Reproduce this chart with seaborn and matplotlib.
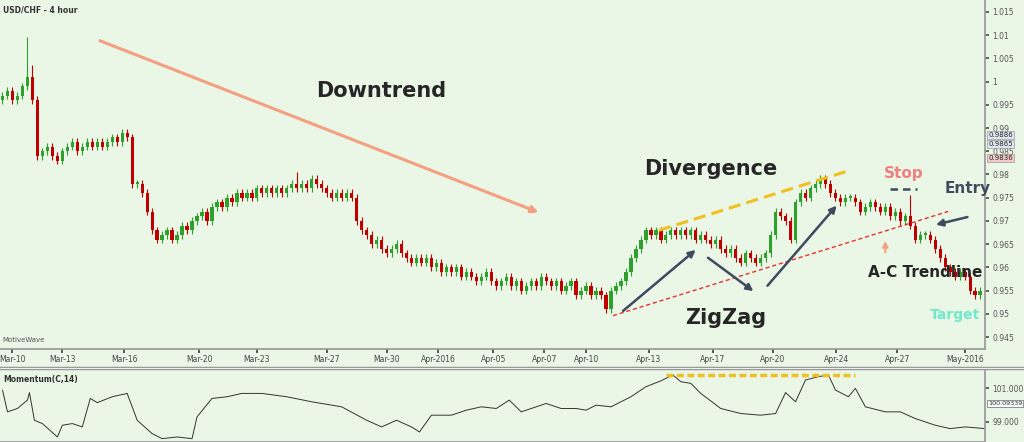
import numpy as np
import pandas as pd
import matplotlib
matplotlib.use("Agg")
import matplotlib.pyplot as plt
import seaborn as sns

# closes, one 4-hour bar each (open = previous close)
closes = [
    0.997, 0.998, 0.996, 0.997, 0.999, 1.001, 0.996, 0.984, 0.985, 0.986,
    0.984, 0.983, 0.985, 0.986, 0.987, 0.985, 0.986, 0.987, 0.986, 0.987,
    0.986, 0.987, 0.988, 0.987, 0.989, 0.988, 0.978, 0.978, 0.976, 0.972,
    0.968, 0.966, 0.967, 0.968, 0.966, 0.967, 0.969, 0.968, 0.970, 0.971,
    0.972, 0.970, 0.973, 0.974, 0.973, 0.975, 0.974, 0.976, 0.975, 0.976,
    0.975, 0.977, 0.976, 0.977, 0.976, 0.977, 0.976, 0.977, 0.978, 0.977,
    0.978, 0.977, 0.979, 0.978, 0.977, 0.976, 0.975, 0.976, 0.975, 0.976,
    0.975, 0.970, 0.968, 0.967, 0.965, 0.966, 0.964, 0.963, 0.964, 0.965,
    0.963, 0.962, 0.961, 0.962, 0.961, 0.962, 0.960, 0.961, 0.959, 0.960,
    0.959, 0.960, 0.958, 0.959, 0.958, 0.957, 0.958, 0.959, 0.957, 0.956,
    0.957, 0.958, 0.956, 0.957, 0.955, 0.956, 0.957, 0.956, 0.958, 0.957,
    0.956, 0.957, 0.955, 0.956, 0.957, 0.954, 0.955, 0.956, 0.954, 0.955,
    0.954, 0.951, 0.955, 0.956, 0.957, 0.959, 0.962, 0.964, 0.966, 0.968,
    0.967, 0.968, 0.966, 0.967, 0.968, 0.967, 0.968, 0.967, 0.968, 0.966,
    0.967, 0.966, 0.965, 0.966, 0.964, 0.963, 0.964, 0.962, 0.961, 0.963,
    0.962, 0.961, 0.962, 0.963, 0.967, 0.972, 0.971, 0.970, 0.966, 0.974,
    0.976, 0.975, 0.977, 0.978, 0.979, 0.978, 0.976, 0.975, 0.974, 0.975,
    0.975, 0.974, 0.972, 0.973, 0.974, 0.973, 0.972, 0.973, 0.971, 0.972,
    0.970, 0.971, 0.969, 0.966, 0.967, 0.967, 0.966, 0.964, 0.962, 0.960,
    0.959, 0.958, 0.959, 0.958, 0.955, 0.954, 0.955,
]
first_open = 0.996
wick = 0.0008
spike_bars = [5, 6, 59, 182]          # bars with long upper wicks
spike_highs = [1.0095, 1.0035, 0.9805, 0.9755]

date_labels = ["Mar-10", "Mar-13", "Mar-16", "Mar-20", "Mar-23", "Mar-27", "Mar-30",
               "Apr-2016", "Apr-05", "Apr-07", "Apr-10", "Apr-13", "Apr-17",
               "Apr-20", "Apr-24", "Apr-27", "May-2016"]
date_bars = [2, 12, 24.4, 39.4, 51, 65, 77, 87.4, 98.4, 108.6, 117, 129.6, 142.4,
             154.4, 167.2, 179.4, 193]

mom_bars = [0, 1, 3, 5, 5.4, 6.4, 8, 11, 12, 14, 16, 17.6, 19, 22, 25, 27, 30, 32, 35,
            38, 39, 42, 45, 48, 52, 57, 62, 68, 73, 76, 79, 82, 83.6, 86, 90, 93, 96,
            99, 101.6, 104, 107, 109, 112, 115, 117, 119, 122, 126, 129, 132, 134.4,
            136, 138, 140, 144, 148, 152, 155, 157, 159, 161, 163.6, 165.6, 167, 169.6,
            171, 173, 177, 180, 183, 187, 190, 193, 197]
mom_vals = [100.9, 99.6, 99.8, 100.3, 100.75, 99.1, 98.9, 98.1, 98.8, 98.9, 98.7,
            100.4, 100.15, 100.5, 100.7, 99.1, 98.3, 98.0, 98.1, 98.0, 99.3, 100.4,
            100.5, 100.7, 100.7, 100.5, 100.2, 99.9, 99.1, 98.7, 99.1, 98.7, 98.4,
            99.4, 99.4, 99.7, 99.9, 99.8, 100.3, 99.6, 99.9, 100.1, 99.8, 99.8, 99.7,
            100.0, 99.9, 100.5, 101.1, 101.45, 101.8, 101.4, 101.3, 100.7, 99.8, 99.5,
            99.4, 99.5, 100.75, 100.2, 101.5, 101.7, 101.8, 100.9, 100.5, 101.0, 99.9,
            99.6, 99.6, 99.2, 98.8, 98.6, 98.7, 98.6]

bg = "#eaf6e6"
sns.set_theme(style="ticks")
plt.rcParams["font.family"] = ["DejaVu Sans"]

fig = plt.figure(figsize=(10.24, 4.42), dpi=100, facecolor=bg)
ax = fig.add_axes([0.0, 0.210, 0.962, 0.790])
axm = fig.add_axes([0.0, 0.0, 0.962, 0.163])
for a in (ax, axm):
    a.set_facecolor(bg)
    for s in ("top", "left"):
        a.spines[s].set_visible(False)
    a.spines["right"].set_color("#9a9a9a")
    a.spines["bottom"].set_color("#9a9a9a")

df = pd.DataFrame({"close": closes})
df["open"] = df["close"].shift(1).fillna(first_open)
df["high"] = df[["open", "close"]].max(axis=1) + wick
df["low"] = df[["open", "close"]].min(axis=1) - wick
df.loc[spike_bars, "high"] = spike_highs
df["up"] = df["close"] >= df["open"]
idx = np.arange(len(df))
cols = np.where(df["up"], "#2ea02c", "#c00000")

ax.vlines(idx, df["low"], df["high"], colors=cols, lw=0.8)
body = (df["close"] - df["open"]).abs().clip(lower=0.0003)
ax.bar(idx, body, bottom=df[["open", "close"]].min(axis=1), width=0.65, color=cols,
       linewidth=0)

ymin, ymax = 0.9424, 1.01756
ax.set_xlim(-0.5, 197)
ax.set_ylim(ymin, ymax)
ax.yaxis.tick_right()
ax.set_yticks(np.arange(0.945, 1.0151, 0.005))
ax.set_yticklabels([f"{v:g}" for v in np.arange(0.945, 1.0151, 0.005)])
ax.tick_params(axis="y", labelsize=5.5, colors="#555555", length=3, pad=2)
ax.set_xticks(date_bars)
ax.set_xticklabels(date_labels)
ax.tick_params(axis="x", labelsize=5.5, colors="#444444", length=3, pad=1.5)


def P(x, y):
    # picture pixel -> data coords of the price panel
    return x / 5.0, 1.015 - (y - 12) / 23.4 * 0.005


ax.annotate("", xy=P(540, 215), xytext=P(95, 40),
            arrowprops=dict(arrowstyle="-|>", color="#f4a080", lw=2.2, mutation_scale=10))
ax.text(*P(380, 92), "Downtrend", fontsize=15, weight="bold", ha="center", va="center")
ax.text(*P(710, 170), "Divergence", fontsize=15, weight="bold", ha="center", va="center")
ax.text(*P(725, 320), "ZigZag", fontsize=15, weight="bold", ha="center", va="center")
ax.text(*P(925, 275), "A-C Trendline", fontsize=11, weight="bold", ha="center", va="center")
ax.text(*P(903, 175), "Stop", fontsize=11, weight="bold", color="#f08080", ha="center", va="center")
ax.text(*P(968, 190), "Entry", fontsize=11, weight="bold", color="#3e4a5e", ha="center", va="center")
ax.text(*P(955, 317), "Target", fontsize=10, weight="bold", color="#70e8cc", ha="center", va="center")

ax.plot(*zip(P(658, 232), P(845, 173)), ls=(0, (4, 2)), color="#f0c020", lw=2.2)
ax.plot(*zip(P(612, 318), P(948, 213)), ls=(0, (3, 2)), color="#e83030", lw=1)
ax.plot(*zip(P(890, 190), P(917, 190)), ls=(0, (3, 2)), color="#3e4a5e", lw=1.8)
arrow = dict(arrowstyle="-|>", color="#3e4a5e", lw=1.8, mutation_scale=10)
ax.annotate("", xy=P(697, 250), xytext=P(620, 315), arrowprops=arrow)
ax.annotate("", xy=P(755, 295), xytext=P(705, 258), arrowprops=arrow)
ax.annotate("", xy=P(838, 205), xytext=P(765, 290), arrowprops=arrow)
ax.annotate("", xy=P(933, 227), xytext=P(970, 218), arrowprops=arrow)
ax.annotate("", xy=P(885, 240), xytext=P(885, 257),
            arrowprops=dict(arrowstyle="-|>", color="#f4a080", lw=1.5, mutation_scale=8))

ax.text(0.003, 0.985, "USD/CHF - 4 hour", transform=ax.transAxes, fontsize=5.5,
        weight="bold", color="#333333", va="top")
ax.text(0.002, 0.02, "MotiveWave", transform=ax.transAxes, fontsize=5, color="#555555")
for v, fc in [(0.9886, "#dde6f0"), (0.9865, "#dde6f0"), (0.9836, "#f4c8c8")]:
    ax.text(1.003, (v - ymin) / (ymax - ymin), f"{v:.4f}", transform=ax.transAxes,
            fontsize=5, va="center", bbox=dict(boxstyle="square,pad=0.15", fc=fc, ec="#888888", lw=0.4))

mom = pd.DataFrame({"bar": mom_bars, "value": mom_vals})
sns.lineplot(data=mom, x="bar", y="value", ax=axm, color="#333333", lw=0.7)
axm.plot([133, 171], [101.8, 101.8], ls=(0, (2, 1)), color="#f0c020", lw=2.5)
mlo, mhi = 97.8, 102.1
axm.set_xlim(-0.5, 197)
axm.set_ylim(mlo, mhi)
axm.set_xticks([])
axm.set_xlabel("")
axm.set_ylabel("")
axm.yaxis.tick_right()
axm.set_yticks([99, 101])
axm.set_yticklabels(["99.000", "101.000"])
axm.tick_params(axis="y", labelsize=5.5, colors="#555555", length=3, pad=2)
axm.text(1.003, (100.09 - mlo) / (mhi - mlo), "100.09339", transform=axm.transAxes,
         fontsize=4.6, va="center",
         bbox=dict(boxstyle="square,pad=0.1", fc="white", ec="#444444", lw=0.4))
axm.text(0.003, 0.93, "Momentum(C,14)", transform=axm.transAxes, fontsize=5.5,
         weight="bold", color="#333333", va="top")

fig.add_artist(plt.Line2D([0, 1], [0.168, 0.168], color="#999999", lw=2.5))
fig.add_artist(plt.Line2D([0, 1], [0.168, 0.168], color="white", lw=0.6))

fig.savefig("out.png", dpi=100, facecolor=bg)
